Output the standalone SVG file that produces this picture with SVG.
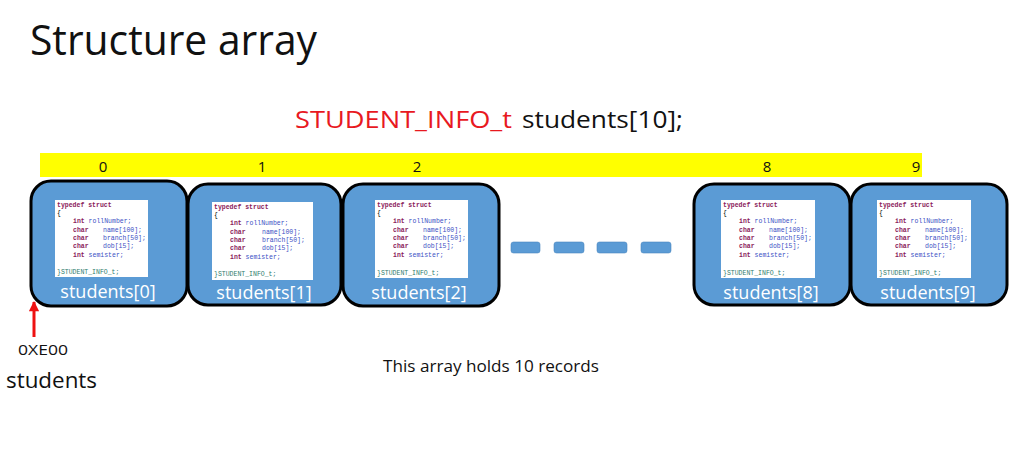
<svg xmlns="http://www.w3.org/2000/svg" width="1024" height="465" viewBox="0 0 1024 465">
<style>
.box{fill:#5b9bd5;stroke:#000;stroke-width:3}
.panel{fill:#fff}
.code{font-family:"Liberation Mono","DejaVu Sans Mono",monospace;font-size:6.5px}
.kw{fill:#8a1a5a;font-weight:bold}
.id{fill:#3b4fc4}
.end{fill:#2e7b6e}
.lbl{font-family:"Open Sans","Liberation Sans",sans-serif;font-size:18px;fill:#fff;text-anchor:middle}
.idx{font-family:"Open Sans","Liberation Sans",sans-serif;font-size:15px;fill:#111;text-anchor:middle}
.txt{font-family:"Open Sans","Liberation Sans",sans-serif;fill:#111}
.dash{fill:#5b9bd5;stroke:#4a86c0;stroke-width:0.6}
</style>
<defs>
<marker id="ah" viewBox="0 0 10 10" refX="9" refY="5" markerWidth="4" markerHeight="3.4" orient="auto" markerUnits="strokeWidth">
<path d="M0,0 L10,5 L0,10 z" fill="#ee1111"/>
</marker>
</defs>
<rect width="1024" height="465" fill="#fff"/>
<text class="txt" x="30" y="55" font-size="42" textLength="287" lengthAdjust="spacingAndGlyphs">Structure array</text>
<text class="txt" x="295" y="128" font-size="23"><tspan fill="#e8191f" textLength="217" lengthAdjust="spacingAndGlyphs">STUDENT_INFO_t</tspan><tspan x="522" textLength="161" lengthAdjust="spacingAndGlyphs">students[10];</tspan></text>
<rect x="40" y="153" width="882" height="24" fill="#ffff00"/>
<g id="indices">
<text class="idx" x="103" y="172">0</text>
<text class="idx" x="262" y="172">1</text>
<text class="idx" x="417" y="172">2</text>
<text class="idx" x="767" y="172">8</text>
<text class="idx" x="916" y="172">9</text>
</g>
<g id="node0">
<rect class="box" x="31" y="181" width="156" height="125" rx="20"/>
<rect class="panel" x="55" y="200" width="93" height="77"/>
<text class="code" x="57" y="207"><tspan class="kw">typedef struct</tspan></text>
<text class="code" x="57" y="215">{</text>
<text class="code" x="73" y="223"><tspan class="kw">int</tspan> <tspan class="id">rollNumber;</tspan></text>
<text class="code" x="73" y="231.5"><tspan class="kw">char</tspan><tspan class="id" x="103">name[100];</tspan></text>
<text class="code" x="73" y="240"><tspan class="kw">char</tspan><tspan class="id" x="103">branch[50];</tspan></text>
<text class="code" x="73" y="248"><tspan class="kw">char</tspan><tspan class="id" x="103">dob[15];</tspan></text>
<text class="code" x="73" y="256.5"><tspan class="kw">int</tspan> <tspan class="id">semister;</tspan></text>
<text class="code" x="57" y="274"><tspan class="end">}STUDENT_INFO_t;</tspan></text>
<text class="lbl" x="108" y="298">students[0]</text>
</g>
<g id="node1">
<rect class="box" x="188" y="184" width="153" height="121" rx="20"/>
<rect class="panel" x="212" y="202" width="101" height="78"/>
<text class="code" x="214" y="209"><tspan class="kw">typedef struct</tspan></text>
<text class="code" x="214" y="217">{</text>
<text class="code" x="230" y="225"><tspan class="kw">int</tspan> <tspan class="id">rollNumber;</tspan></text>
<text class="code" x="230" y="233.5"><tspan class="kw">char</tspan><tspan class="id" x="262">name[100];</tspan></text>
<text class="code" x="230" y="242"><tspan class="kw">char</tspan><tspan class="id" x="262">branch[50];</tspan></text>
<text class="code" x="230" y="250"><tspan class="kw">char</tspan><tspan class="id" x="262">dob[15];</tspan></text>
<text class="code" x="230" y="258.5"><tspan class="kw">int</tspan> <tspan class="id">semister;</tspan></text>
<text class="code" x="214" y="276"><tspan class="end">}STUDENT_INFO_t;</tspan></text>
<text class="lbl" x="264" y="299">students[1]</text>
</g>
<g id="node2">
<rect class="box" x="343" y="184" width="156" height="122" rx="20"/>
<rect class="panel" x="375" y="200" width="93" height="78"/>
<text class="code" x="377" y="207"><tspan class="kw">typedef struct</tspan></text>
<text class="code" x="377" y="215">{</text>
<text class="code" x="393" y="223"><tspan class="kw">int</tspan> <tspan class="id">rollNumber;</tspan></text>
<text class="code" x="393" y="231.5"><tspan class="kw">char</tspan><tspan class="id" x="423">name[100];</tspan></text>
<text class="code" x="393" y="240"><tspan class="kw">char</tspan><tspan class="id" x="423">branch[50];</tspan></text>
<text class="code" x="393" y="248"><tspan class="kw">char</tspan><tspan class="id" x="423">dob[15];</tspan></text>
<text class="code" x="393" y="256.5"><tspan class="kw">int</tspan> <tspan class="id">semister;</tspan></text>
<text class="code" x="377" y="275"><tspan class="end">}STUDENT_INFO_t;</tspan></text>
<text class="lbl" x="419" y="299">students[2]</text>
</g>
<g id="ellipsis">
<rect class="dash" x="511" y="242" width="29" height="11" rx="2.5"/>
<rect class="dash" x="554" y="242" width="30" height="11" rx="2.5"/>
<rect class="dash" x="597" y="242" width="30" height="11" rx="2.5"/>
<rect class="dash" x="641" y="242" width="30" height="11" rx="2.5"/>
</g>
<g id="node8">
<rect class="box" x="694" y="184" width="156" height="121" rx="20"/>
<rect class="panel" x="721" y="200" width="94" height="78"/>
<text class="code" x="723" y="207"><tspan class="kw">typedef struct</tspan></text>
<text class="code" x="723" y="215">{</text>
<text class="code" x="739" y="223"><tspan class="kw">int</tspan> <tspan class="id">rollNumber;</tspan></text>
<text class="code" x="739" y="231.5"><tspan class="kw">char</tspan><tspan class="id" x="769">name[100];</tspan></text>
<text class="code" x="739" y="240"><tspan class="kw">char</tspan><tspan class="id" x="769">branch[50];</tspan></text>
<text class="code" x="739" y="248"><tspan class="kw">char</tspan><tspan class="id" x="769">dob[15];</tspan></text>
<text class="code" x="739" y="256.5"><tspan class="kw">int</tspan> <tspan class="id">semister;</tspan></text>
<text class="code" x="723" y="275"><tspan class="end">}STUDENT_INFO_t;</tspan></text>
<text class="lbl" x="771" y="299">students[8]</text>
</g>
<g id="node9">
<rect class="box" x="851" y="184" width="156" height="121" rx="20"/>
<rect class="panel" x="877" y="200" width="94" height="78"/>
<text class="code" x="879" y="207"><tspan class="kw">typedef struct</tspan></text>
<text class="code" x="879" y="215">{</text>
<text class="code" x="895" y="223"><tspan class="kw">int</tspan> <tspan class="id">rollNumber;</tspan></text>
<text class="code" x="895" y="231.5"><tspan class="kw">char</tspan><tspan class="id" x="925">name[100];</tspan></text>
<text class="code" x="895" y="240"><tspan class="kw">char</tspan><tspan class="id" x="925">branch[50];</tspan></text>
<text class="code" x="895" y="248"><tspan class="kw">char</tspan><tspan class="id" x="925">dob[15];</tspan></text>
<text class="code" x="895" y="256.5"><tspan class="kw">int</tspan> <tspan class="id">semister;</tspan></text>
<text class="code" x="879" y="275"><tspan class="end">}STUDENT_INFO_t;</tspan></text>
<text class="lbl" x="928" y="299">students[9]</text>
</g>
<g id="connectors">
<line x1="34" y1="337" x2="34" y2="302" stroke="#ee1111" stroke-width="3" marker-end="url(#ah)"/>
</g>
<g id="address">
<text class="txt" x="18" y="355" font-size="15" textLength="50" lengthAdjust="spacingAndGlyphs">0XE00</text>
<text class="txt" x="6" y="388" font-size="22" textLength="91" lengthAdjust="spacingAndGlyphs">students</text>
</g>
<text class="txt" x="383" y="372" font-size="16" textLength="216" lengthAdjust="spacingAndGlyphs">This array holds 10 records</text>
</svg>
